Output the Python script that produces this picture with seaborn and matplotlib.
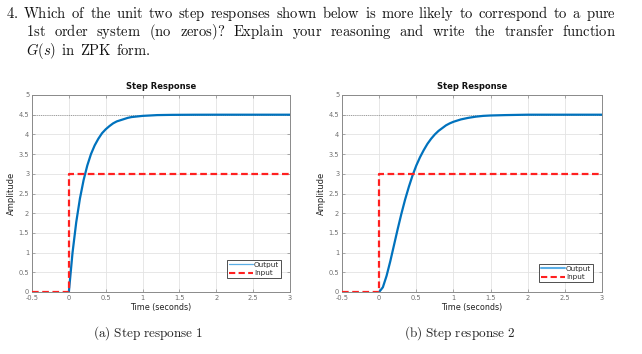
import numpy as np
import pandas as pd
import matplotlib
matplotlib.use("Agg")
import matplotlib.pyplot as plt
from matplotlib.lines import Line2D
import seaborn as sns

# ---------------- data ----------------
t_out = [0.00, 0.05, 0.10, 0.15, 0.20, 0.25, 0.30, 0.35, 0.40, 0.45, 0.50,
         0.55, 0.60, 0.65, 0.70, 0.75, 0.80, 0.85, 0.90, 0.95, 1.00, 1.05,
         1.10, 1.15, 1.20, 1.30, 1.40, 1.50, 1.70, 2.00, 3.00]
y_resp1 = [0.00, 1.00, 1.77, 2.37, 2.84, 3.21, 3.50, 3.72, 3.89, 4.03, 4.13,
           4.21, 4.28, 4.33, 4.36, 4.39, 4.42, 4.44, 4.45, 4.46, 4.47, 4.475,
           4.48, 4.485, 4.49, 4.493, 4.496, 4.497, 4.499, 4.50, 4.50]
y_resp2 = [0.00, 0.12, 0.41, 0.78, 1.19, 1.60, 1.99, 2.35, 2.67, 2.96, 3.21,
           3.42, 3.60, 3.76, 3.89, 4.00, 4.09, 4.16, 4.23, 4.28, 4.32, 4.35,
           4.38, 4.40, 4.42, 4.45, 4.47, 4.48, 4.49, 4.50, 4.50]
t_in = [-0.5, 0.0, 0.0, 3.0]
u_in = [0.0, 0.0, 3.0, 3.0]
final_value = 4.5
xticks = [-0.5, 0, 0.5, 1, 1.5, 2, 2.5, 3]
xtick_labels = ["-0.5", "0", "0.5", "1", "1.5", "2", "2.5", "3"]
yticks = [0, 0.5, 1, 1.5, 2, 2.5, 3, 3.5, 4, 4.5, 5]
ytick_labels = ["0", "0.5", "1", "1.5", "2", "2.5", "3", "3.5", "4", "4.5", "5"]
captions = ["(a) Step response 1", "(b) Step response 2"]
question = ["4. Which of the unit two step responses shown below is more likely to correspond to a pure",
            "1st order system (no zeros)? Explain your reasoning and write the transfer function",
            "G(s) in ZPK form."]

sns.set_theme(style="white")
plt.rcParams["mathtext.fontset"] = "cm"

W, H = 642, 354
fig = plt.figure(figsize=(W / 100, H / 100), dpi=100)

BLUE = "#0072BD"
GRAY = "#6e6e6e"
TXT = "#111111"

axes_pos = [(32, 95, 290, 292), (342, 95, 602, 292)]
legend_pos = [(229, 257, 281, 278), (539, 261, 593, 282)]

df_in = pd.DataFrame({"t": t_in, "u": u_in})


def cm_word(w):
    if w == "G(s)":
        return r"$G(s)$"
    return r"$\mathrm{" + w + "}$"


for i, (resp, (l, t, r, b)) in enumerate(zip([y_resp1, y_resp2], axes_pos)):
    ax = fig.add_axes([l / W, 1 - b / H, (r - l) / W, (b - t) / H])
    df = pd.DataFrame({"t": t_out, "y": resp})
    ax.axhline(final_value, color="#9a9a9a", lw=0.7, ls=(0, (1, 1.2)), zorder=1)
    sns.lineplot(data=df, x="t", y="y", ax=ax, color=BLUE, lw=1.6,
                 estimator=None, sort=False, zorder=3)
    sns.lineplot(data=df_in, x="t", y="u", ax=ax, color="#ff2020", lw=1.6,
                 estimator=None, sort=False, zorder=4)
    ax.lines[-1].set_dashes([3.0, 1.6])
    ax.set_xlim(-0.5, 3)
    ax.set_ylim(0, 5)
    ax.set_xticks(xticks)
    ax.set_xticklabels(xtick_labels)
    ax.set_yticks(yticks)
    ax.set_yticklabels(ytick_labels)
    ax.grid(True, color="#e3e3e3", lw=0.6)
    ax.set_axisbelow(True)
    for s in ax.spines.values():
        s.set_visible(True)
        s.set_color("#8a8a8a")
        s.set_linewidth(0.7)
    ax.tick_params(axis="both", direction="in", length=2, width=0.5,
                   colors="#8a8a8a", labelcolor=GRAY, labelsize=4.8, pad=2,
                   top=True, right=True, bottom=True, left=True)
    ax.set_title("Step Response", fontsize=6, fontweight="bold", color="#111111", pad=4)
    ax.set_xlabel("Time (seconds)", fontsize=5.8, color="#222222", labelpad=1.5)
    ax.set_ylabel("Amplitude", fontsize=6, color="#222222", labelpad=2)

    handles = [Line2D([0], [0], color="#5aaee6", lw=0.9 if i == 0 else 1.5),
               Line2D([0], [0], color="#ff2020", lw=1.5, dashes=[3.0, 1.6])]
    ll, lt, lr, lb = legend_pos[i]
    leg = ax.legend(handles, ["Output", "Input"], fontsize=5.2,
                    loc="lower right",
                    bbox_to_anchor=((lr - l) / (r - l), (b - lb) / (b - t)),
                    frameon=True, fancybox=False, framealpha=1,
                    edgecolor="#333333", handlelength=3.3, handletextpad=0.15,
                    borderpad=0.25, labelspacing=0.3, borderaxespad=0)
    leg.get_frame().set_linewidth(0.6)

    cx = (l + r) / 2 / W
    cap = r"$\mathrm{" + captions[i].replace(" ", r"\ ") + "}$"
    fig.text(cx - 0.02, 1 - 337 / H, cap, fontsize=9.5,
             ha="center", va="baseline", color="#222222")

# question text
renderer = fig.canvas.get_renderer()


def measure(text, fs):
    arts = [fig.text(0, 0, cm_word(w), fontsize=fs) for w in text.split(" ")]
    widths = [a.get_window_extent(renderer).width for a in arts]
    for a in arts:
        a.remove()
    return widths


# choose size so that the first line fits with normal word spacing
base = 11.5
wds = measure(question[0], base)
natural = sum(wds) + (len(wds) - 1) * base * 100 / 72 * 0.33
FS = base * (616 - 6) / natural


def place_words(text, x0, y, x1=None):
    words = text.split(" ")
    arts = [fig.text(0, 1 - y / H, cm_word(w), fontsize=FS,
                     va="baseline", ha="left", color=TXT) for w in words]
    widths = [a.get_window_extent(renderer).width for a in arts]
    if x1 is None:
        gap = FS * 100 / 72 * 0.33
    else:
        gap = ((x1 - x0) - sum(widths)) / (len(words) - 1)
    pos = x0
    for a, w in zip(arts, widths):
        a.set_x(pos / W)
        pos += w + gap


place_words(question[0], 6, 18, 616)
place_words(question[1], 26, 36, 616)
place_words(question[2], 26, 55)

fig.savefig("out.png", dpi=100)
